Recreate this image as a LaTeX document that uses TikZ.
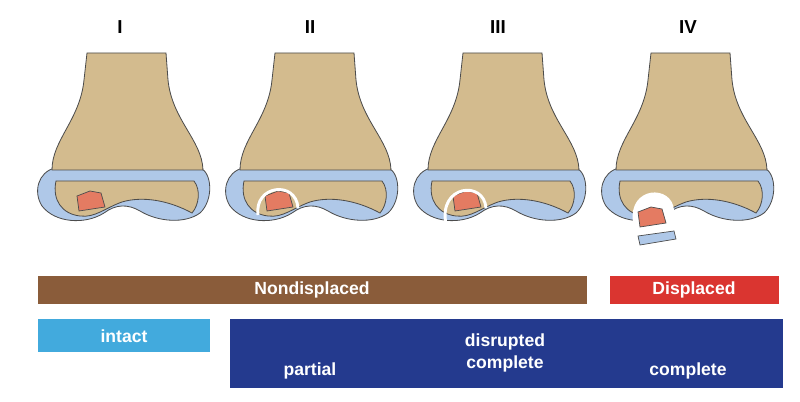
\documentclass[tikz,border=0pt]{standalone}
\usepackage{fontspec}
\setmainfont{Liberation Sans}
\definecolor{tan}{HTML}{D3BB8E}
\definecolor{capblue}{HTML}{AFC8E8}
\definecolor{frag}{HTML}{E47B62}
\definecolor{brownbar}{HTML}{8A5C3A}
\definecolor{redbar}{HTML}{DA3530}
\definecolor{lblue}{HTML}{42AADD}
\definecolor{dblue}{HTML}{243A8E}
\tikzset{edge/.style={draw=black!70,line width=0.7pt},
 lbl/.style={font=\bfseries\fontsize{16}{19}\selectfont},
 bartxt/.style={text=white,font=\bfseries\fontsize{15}{18}\selectfont,align=center}}
\newcommand\bonebase{%
 \fill[capblue,edge] (55,168) -- (200,168) .. controls (212,172) and (214,200) .. (200,213) .. controls (185,224) and (158,222) .. (140,211) .. controls (128,204) and (116,204) .. (104,213) .. controls (85,225) and (55,223) .. (42,206) .. controls (33,192) and (38,172) .. (55,168) -- cycle;
 \fill[tan,edge] (87,53) -- (166,53) -- (168,80) .. controls (172,120) and (202,140) .. (203,170) -- (52,170) .. controls (52,140) and (80,120) .. (84,80) -- cycle;
 \fill[tan,edge] (56,181) -- (194,181) .. controls (201,190) and (199,205) .. (192,213) .. controls (168,200) and (142,196) .. (122,202) .. controls (105,208) and (95,218) .. (80,216) .. controls (62,214) and (52,200) .. (56,181) -- cycle;}
\newcommand\fragm{\fill[frag,draw=black!70,line width=0.6pt] (77,196) -- (90,191) -- (101,193) -- (105,207) -- (79,211) -- cycle;}
\begin{document}
\begin{tikzpicture}[x=0.03cm,y=-0.03cm]
\useasboundingbox (0,0) rectangle (800,402);
\fill[white] (0,0) rectangle (800,402);
% I
\begin{scope}\bonebase\fragm\end{scope}
% II
\begin{scope}[shift={(188,0)}]\bonebase\fragm
 \draw[white,line width=2.5pt] (70,215) .. controls (66,185) and (108,180) .. (110,208);\end{scope}
% III
\begin{scope}[shift={(376,0)}]\bonebase\fragm
 \draw[white,line width=2.5pt] (70,224) .. controls (62,185) and (108,180) .. (110,208);\end{scope}
% IV
\begin{scope}[shift={(564,0)}]\bonebase
 \fill[white] (69,222) .. controls (64,186) and (108,184) .. (110,210) -- (110,222) -- cycle;
 \begin{scope}[shift={(-3,16)}]\fragm\end{scope}
 \fill[capblue,draw=black!70,line width=0.6pt] (74,236) -- (110,231) -- (112,239) -- (76,245) -- cycle;
\end{scope}
\node[lbl] (l1) at (120,27) {I};
\node[lbl] (l2) at (310,27) {II};
\node[lbl] (l3) at (498,27) {III};
\node[lbl] (l4) at (688,27) {IV};
\fill[brownbar] (38,276) rectangle (587,304);
\node[bartxt] (nd) at (312,290) {Nondisplaced};
\fill[redbar] (610,276) rectangle (779,304);
\node[bartxt] (dp) at (694,290) {Displaced};
\fill[lblue] (38,319) rectangle (210,352);
\node[bartxt] (in) at (124,336) {intact};
\fill[dblue] (230,319) rectangle (783,388);
\node[bartxt] (pa) at (310,371) {partial};
\node[bartxt] (dc) at (505,353) {disrupted\\complete};
\node[bartxt] (co) at (688,371) {complete};
\end{tikzpicture}
\end{document}
